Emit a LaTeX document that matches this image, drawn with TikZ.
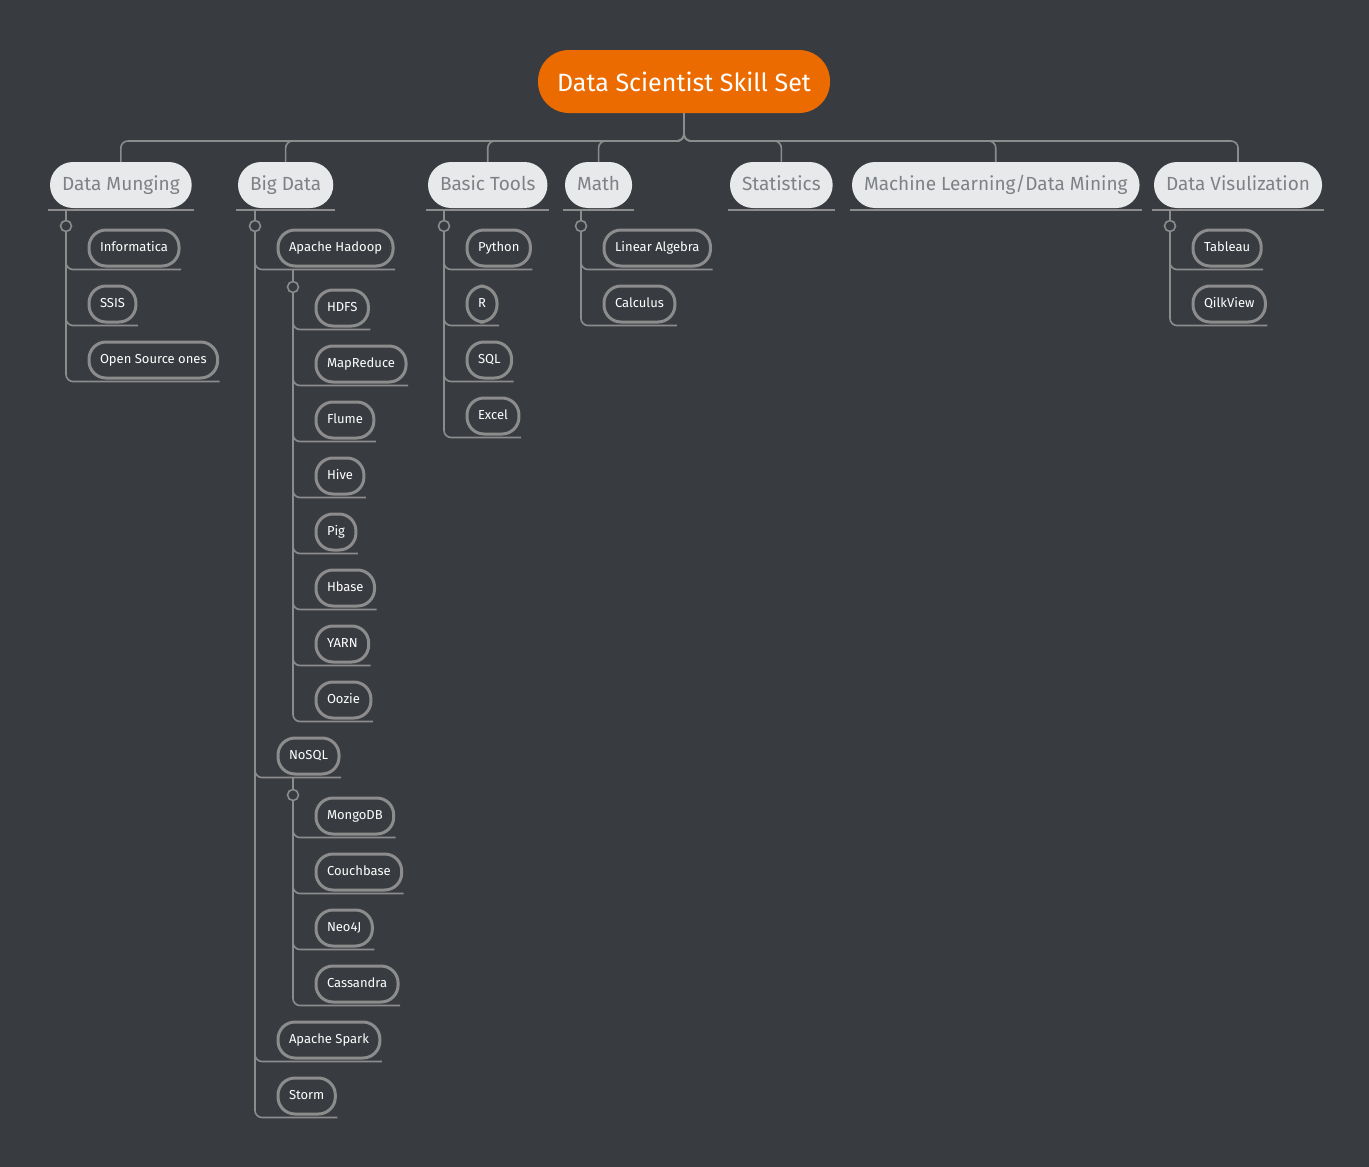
\documentclass[tikz,border=0pt]{standalone}
\usepackage{fontspec}
\setmainfont{Fira Sans}
\definecolor{bg}{HTML}{383B40}
\definecolor{ln}{HTML}{8C8C8C}
\definecolor{org}{HTML}{EB6B00}
\definecolor{topf}{HTML}{E8E9EA}
\definecolor{topt}{HTML}{7E8186}
\tikzset{
 conn/.style={draw=ln,line width=1.6pt,rounded corners=7pt},
 leaf/.style={draw=ln,line width=3pt,fill=bg,rounded corners=17pt,text=white,font=\fontsize{13}{15}\selectfont,inner xsep=11pt,minimum height=36pt,minimum width=30pt,text height=9.5pt,text depth=2.5pt,outer sep=0pt,anchor=west},
 top/.style={fill=topf,text=topt,rounded corners=23pt,font=\fontsize{19}{22}\selectfont,inner xsep=12pt,minimum height=46pt,text height=14pt,text depth=4pt,outer sep=0pt,anchor=west},
 dot/.style={circle,draw=ln,line width=1.6pt,fill=bg,minimum size=11pt,inner sep=0pt},
}
\newcommand\lf[5]{\node[leaf] (#1) at (#2,#3) {#4};
 \draw[conn] (#5) |- ([xshift=2pt,yshift=-3.5pt]#1.south east);}
\newcommand\tp[4]{\node[top] (#1) at (#2,185) {#3};
 \draw[conn,rounded corners=0pt] ([xshift=-2pt,yshift=-2pt]#1.south west) -- ([xshift=2pt,yshift=-2pt]#1.south east);
 \draw[conn] (root.south) |- (#4,141) -| (#1.north);}
\newcommand\dt[3]{\node[dot] (#1) at (#2,#3) {};}
\begin{document}
\begin{tikzpicture}[x=1pt,y=-1pt]
\fill[bg] (0,0) rectangle (1369,1167);
\useasboundingbox (0,0) rectangle (1369,1167);
\coordinate (cdm0) at (66,226);
\coordinate (cbd0) at (255,226);
\coordinate (cha0) at (293,287);
\coordinate (cns0) at (293,795);
\coordinate (cbt0) at (444,226);
\coordinate (cma0) at (581,226);
\coordinate (cdv0) at (1170,226);
\node[fill=org,text=white,rounded corners=31pt,minimum height=63pt,minimum width=292pt,font=\fontsize{25}{30}\selectfont,outer sep=0pt] (root) at (684,81.5) {Data Scientist Skill Set};
\tp{dm}{50}{Data Munging}{684}
\tp{bd}{238}{Big Data}{684}
\tp{bt}{428}{Basic Tools}{684}
\tp{ma}{565}{Math}{684}
\tp{st}{730}{Statistics}{684}
\tp{ml}{852}{Machine Learning/Data Mining}{684}
\tp{dv}{1154}{Data Visulization}{684}
% Data Munging
\draw[conn] (66,210) -- (66,221);
\lf{inf}{89}{248}{Informatica}{cdm0}
\lf{ssis}{89}{304}{SSIS}{cdm0}
\lf{oso}{89}{360}{Open Source ones}{cdm0}
% Big Data
\draw[conn] (255,210) -- (255,221);
\lf{hadoop}{278}{248}{Apache Hadoop}{cbd0}
\draw[conn] (293,270) -- (293,282);
\lf{hdfs}{316}{308}{HDFS}{cha0}
\lf{mr}{316}{364}{MapReduce}{cha0}
\lf{flume}{316}{420}{Flume}{cha0}
\lf{hive}{316}{476}{Hive}{cha0}
\lf{pig}{316}{532}{Pig}{cha0}
\lf{hbase}{316}{588}{Hbase}{cha0}
\lf{yarn}{316}{644}{YARN}{cha0}
\lf{oozie}{316}{700}{Oozie}{cha0}
\lf{nosql}{278}{756}{NoSQL}{cbd0}
\draw[conn] (293,778) -- (293,790);
\lf{mongo}{316}{816}{MongoDB}{cns0}
\lf{couch}{316}{872}{Couchbase}{cns0}
\lf{neo}{316}{928}{Neo4J}{cns0}
\lf{cass}{316}{984}{Cassandra}{cns0}
\lf{spark}{278}{1040}{Apache Spark}{cbd0}
\lf{storm}{278}{1096}{Storm}{cbd0}
% Basic Tools
\draw[conn] (444,210) -- (444,221);
\lf{py}{467}{248}{Python}{cbt0}
\lf{r}{467}{304}{R}{cbt0}
\lf{sql}{467}{360}{SQL}{cbt0}
\lf{excel}{467}{416}{Excel}{cbt0}
% Math
\draw[conn] (581,210) -- (581,221);
\lf{la}{604}{248}{Linear Algebra}{cma0}
\lf{calc}{604}{304}{Calculus}{cma0}
% Data Viz
\draw[conn] (1170,210) -- (1170,221);
\lf{tab}{1193}{248}{Tableau}{cdv0}
\lf{qv}{1193}{304}{QilkView}{cdv0}
% dots drawn on top
\dt{cdm}{66}{226}
\dt{cbd}{255}{226}
\dt{cha}{293}{287}
\dt{cns}{293}{795}
\dt{cbt}{444}{226}
\dt{cma}{581}{226}
\dt{cdv}{1170}{226}
\end{tikzpicture}
\end{document}
